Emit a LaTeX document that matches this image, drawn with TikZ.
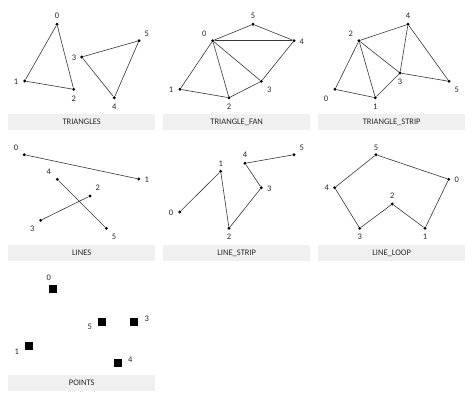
\documentclass[tikz,border=0pt]{standalone}
\usepackage{fontspec}
\setmainfont{Carlito}
\usepackage{tikz}
\usetikzlibrary{positioning}
\tikzstyle{panelGrid} = [x = 1pt, y = -1pt]
\definecolor{barColor}{RGB}{240,240,240}
\definecolor{lineColor}{RGB}{55,55,55}
\definecolor{textColor}{RGB}{40,40,40}
\tikzstyle{edgeLine} = [color=lineColor, line width=0.6pt]
\tikzstyle{vertexDot} = [circle, fill=black, inner sep=0pt, minimum size=3.2pt]
\tikzstyle{pointSquare} = [rectangle, fill=black, inner sep=0pt, minimum size=8pt]
\tikzstyle{vertexLabel} = [font=\fontsize{8.5}{10}\selectfont, text=textColor, inner sep=0pt]
\tikzstyle{captionBar} = [fill=barColor, anchor=north west, inner sep=0pt, minimum width=147pt, minimum height=16pt, font=\fontsize{8.5}{10}\selectfont, text=textColor]
\newcommand{\vertex}[6]{\node [vertexDot] (#1) at (#2, #3) {}; \node [vertexLabel] (#1l) at ([shift={(#5,#6)}] #1) {#4};}
\newcommand{\point}[6]{\node [pointSquare] (#1) at (#2, #3) {}; \node [vertexLabel] (#1l) at ([shift={(#5,#6)}] #1) {#4};}
\newcommand{\panelCaption}[4]{\node [captionBar] (#1) at (#2, #3) {#4};}

\begin{document}
\begin{tikzpicture}[panelGrid]
      \useasboundingbox [fill=white] (0, 0) rectangle (474, 400);

      % triangles
      \vertex{tri0}{57}{24.3}{0}{0}{-8.6}
      \vertex{tri1}{24.7}{81}{1}{-8.7}{0.7}
      \vertex{tri2}{73.7}{89.3}{2}{0}{9.4}
      \vertex{tri3}{81.7}{57}{3}{-7.7}{0.3}
      \vertex{tri4}{114.3}{97.7}{4}{0}{9}
      \vertex{tri5}{139}{40.7}{5}{7.7}{-7.4}
      \draw [edgeLine] (tri0) -- (tri1) -- (tri2) -- (tri0);
      \draw [edgeLine] (tri3) -- (tri4) -- (tri5) -- (tri3);
      \panelCaption{triCap}{8}{114}{TRIANGLES}

      % triangle fan
      \vertex{fan0}{212.7}{40.7}{0}{-8.4}{-7.4}
      \vertex{fan1}{180}{89.3}{1}{-9}{0.7}
      \vertex{fan2}{229}{97.7}{2}{0}{9}
      \vertex{fan3}{261.3}{81.3}{3}{8}{8.7}
      \vertex{fan4}{294}{40.7}{4}{7.7}{1}
      \vertex{fan5}{253}{24.3}{5}{0}{-8.3}
      \foreach \i in {1,...,5} {
        \draw [edgeLine] (fan0) -- (fan\i);
      }
      \draw [edgeLine] (fan1) -- (fan2) -- (fan3) -- (fan4) -- (fan5);
      \panelCaption{fanCap}{163}{114}{TRIANGLE\_FAN}

      % triangle strip
      \vertex{strip0}{335}{89.3}{0}{-9}{9}
      \vertex{strip1}{375.3}{97.7}{1}{0}{9}
      \vertex{strip2}{359}{40.7}{2}{-8.3}{-7.4}
      \vertex{strip3}{400}{73}{3}{0}{8.7}
      \vertex{strip4}{408}{24.3}{4}{0}{-8.3}
      \vertex{strip5}{449}{81.3}{5}{7.7}{8.7}
      \draw [edgeLine] (strip0) -- (strip1) -- (strip3) -- (strip5) -- (strip4) -- (strip2) -- (strip0);
      \foreach \i/\j in {2/1, 2/3, 4/3} {
        \draw [edgeLine] (strip\i) -- (strip\j);
      }
      \panelCaption{stripCap}{318}{114}{TRIANGLE\_STRIP}

      % lines
      \vertex{lin0}{24.3}{154.7}{0}{-8.3}{-7.4}
      \vertex{lin1}{138.7}{179}{1}{8}{1}
      \vertex{lin2}{90}{196}{2}{7.7}{-8.3}
      \vertex{lin3}{40.7}{220.3}{3}{-8.4}{8.7}
      \vertex{lin4}{57.3}{179.3}{4}{-8.6}{-7.6}
      \vertex{lin5}{106.3}{228.3}{5}{7.7}{8.7}
      \draw [edgeLine] (lin0) -- (lin1);
      \draw [edgeLine] (lin2) -- (lin3);
      \draw [edgeLine] (lin4) -- (lin5);
      \panelCaption{linCap}{8}{245}{LINES}

      % line strip
      \vertex{lst0}{179.7}{212}{0}{-8.7}{0.7}
      \vertex{lst1}{220.7}{171.3}{1}{0}{-8}
      \vertex{lst2}{229}{228.3}{2}{0}{8.4}
      \vertex{lst3}{261.3}{187.7}{3}{8}{0.6}
      \vertex{lst4}{245}{163.3}{4}{0}{-8.3}
      \vertex{lst5}{294}{154.7}{5}{7.7}{-7.4}
      \draw [edgeLine] (lst0) -- (lst1) -- (lst2) -- (lst3) -- (lst4) -- (lst5);
      \panelCaption{lstCap}{163}{245}{LINE\_STRIP}

      % line loop
      \vertex{loop0}{448.7}{179.3}{0}{8}{0.7}
      \vertex{loop1}{425}{228.3}{1}{0}{8.4}
      \vertex{loop2}{392.3}{204}{2}{0}{-8}
      \vertex{loop3}{359.7}{228.3}{3}{0}{8.4}
      \vertex{loop4}{334.7}{187.7}{4}{-8}{0}
      \vertex{loop5}{376}{154.7}{5}{0}{-7.4}
      \draw [edgeLine] (loop0) -- (loop1) -- (loop2) -- (loop3) -- (loop4) -- (loop5) -- (loop0);
      \panelCaption{loopCap}{318}{245}{LINE\_LOOP}

      % points
      \point{pts0}{53}{289.3}{0}{-4.3}{-11.6}
      \point{pts1}{29}{346.3}{1}{-12.3}{5.4}
      \point{pts3}{134.3}{322.3}{3}{12.4}{-4}
      \point{pts4}{118}{363}{4}{12.3}{-3.3}
      \point{pts5}{102}{322.3}{5}{-12.3}{4.7}
      \panelCaption{ptsCap}{8}{375}{POINTS}
    \end{tikzpicture}
\end{document}
